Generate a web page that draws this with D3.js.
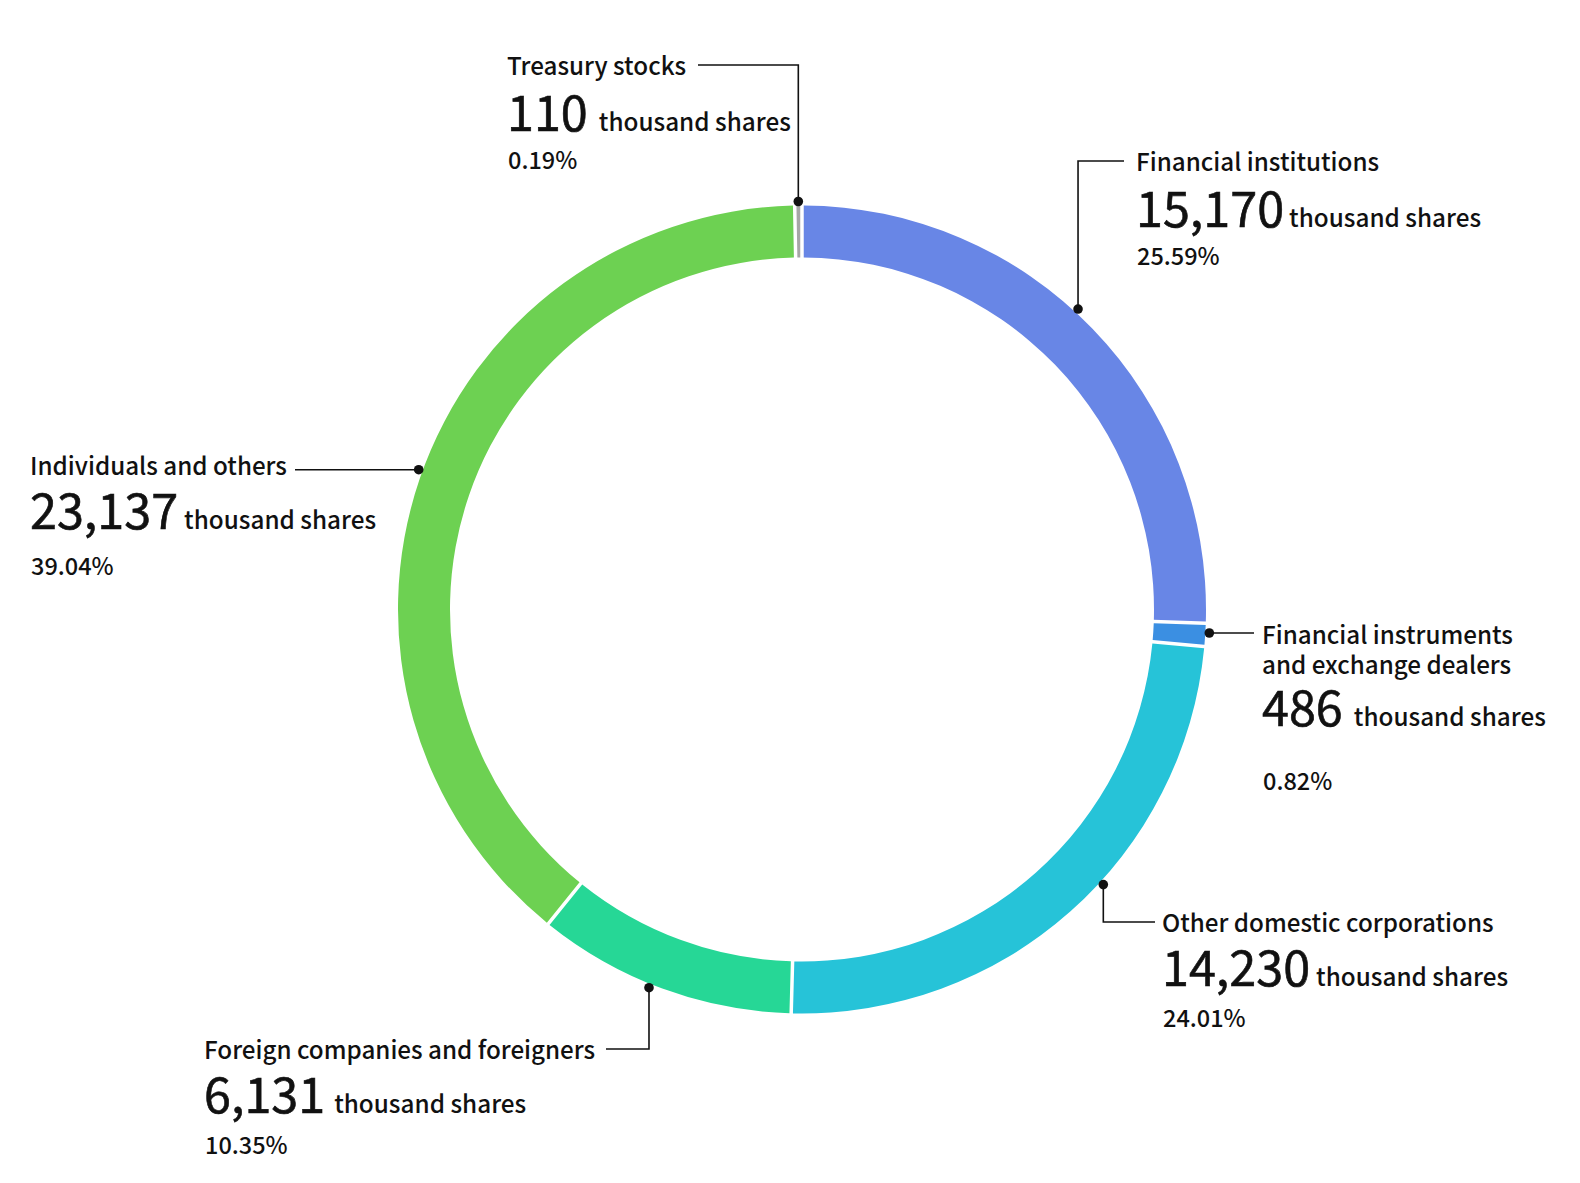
<!DOCTYPE html>
<html>
<head>
<meta charset="utf-8">
<script src="https://cdn.jsdelivr.net/npm/d3@7"></script>
<style>
  body { margin: 0; background: #fff; }
  svg text { font-family: "Noto Sans CJK JP", "Noto Sans", sans-serif; fill: #111; }
</style>
</head>
<body>
<svg id="chart" width="1580" height="1183"></svg>
<script>
// shareholder breakdown, clockwise from 12 o'clock
const categories = ["Financial institutions", "Financial instruments and exchange dealers",
  "Other domestic corporations", "Foreign companies and foreigners",
  "Individuals and others", "Treasury stocks"];
const shares = [15170, 486, 14230, 6131, 23137, 110];   // thousand shares
const percents = ["25.59%", "0.82%", "24.01%", "10.35%", "39.04%", "0.19%"];
const colors = ["#6886e6", "#3b8fe2", "#26c3d8", "#26d796", "#6dd152", "#a6a6a6"];

// label placement for each slice (same order as above)
const labelLayout = [
  { lines: ["Financial institutions"], x: 1136, y: 171, numY: 227, pctY: 265, end: 1124, leader: "v", nudge: -3.4, gap: 5 },
  { lines: ["Financial instruments", "and exchange dealers"], x: 1262, y: 644, numY: 726, pctY: 790, end: 1254, leader: "h", nudge: -0.3, gap: 11 },
  { lines: ["Other domestic corporations"], x: 1162, y: 932, numY: 986, pctY: 1027, end: 1155, leader: "v", nudge: -6, gap: 6 },
  { lines: ["Foreign companies and foreigners"], x: 204, y: 1059, numY: 1113, pctY: 1154, end: 606, leader: "v", nudge: 1.8, gap: 9 },
  { lines: ["Individuals and others"], x: 30, y: 475, numY: 529, pctY: 575, end: 295, leader: "h", nudge: 1.1, gap: 6 },
  { lines: ["Treasury stocks"], x: 507, y: 75, numY: 131, pctY: 169, end: 698, leader: "v", nudge: 0, gap: 11 }
];

const cx = 802, cy = 609.5, outerR = 404, innerR = 352, dotR = 408;

const svg = d3.select("#chart");
const g = svg.append("g").attr("transform", `translate(${cx},${cy})`);

const pie = d3.pie().sort(null).value(d => d.value).padAngle(0.0065);
const arc = d3.arc().innerRadius(innerR).outerRadius(outerR);

const rows = categories.map((c, i) => ({ name: c, value: shares[i], pct: percents[i], color: colors[i], lay: labelLayout[i] }));
const arcs = pie(rows);

g.selectAll("path.slice")
  .data(arcs)
  .join("path")
  .attr("class", "slice")
  .attr("d", arc)
  .attr("fill", d => d.data.color);

const fmt = d3.format(",");

arcs.forEach(a => {
  const lay = a.data.lay;
  //anchor point on the outer edge of the ring
  const ang = (a.startAngle + a.endAngle) / 2 + lay.nudge * Math.PI / 180;
  const px = cx + dotR * Math.sin(ang);
  const py = cy - dotR * Math.cos(ang);

  let pts;
  if (lay.leader === "v") {
    const ly = lay.y - 10;
    pts = [[px, py], [px, ly], [lay.end, ly]];
  } else {
    pts = [[px, py], [lay.end, py]];
  }
  svg.append("path")
    .attr("d", d3.line()(pts))
    .attr("fill", "none")
    .attr("stroke", "#111")
    .attr("stroke-width", 1.6);
  svg.append("circle")
    .attr("cx", px).attr("cy", py).attr("r", 4.8)
    .attr("fill", "#111");

  const t = svg.append("text").attr("x", lay.x).attr("y", lay.y)
    .attr("font-size", 24.2).attr("font-weight", 500);
  lay.lines.forEach((ln, j) => {
    t.append("tspan").attr("x", lay.x).attr("y", lay.y + j * 30).text(ln);
  });

  const num = svg.append("text").attr("x", lay.x).attr("y", lay.numY);
  num.append("tspan").attr("font-size", 48.5).attr("font-weight", 400)
    .attr("stroke", "#111").attr("stroke-width", 0.6)
    .text(fmt(a.data.value));
  num.append("tspan").attr("dx", lay.gap).attr("font-size", 24.3).attr("font-weight", 500).text("thousand shares");

  svg.append("text").attr("x", lay.x + 1).attr("y", lay.pctY)
    .attr("font-size", 23.5).attr("font-weight", 500)
    .text(a.data.pct);
});
</script>
</body>
</html>
